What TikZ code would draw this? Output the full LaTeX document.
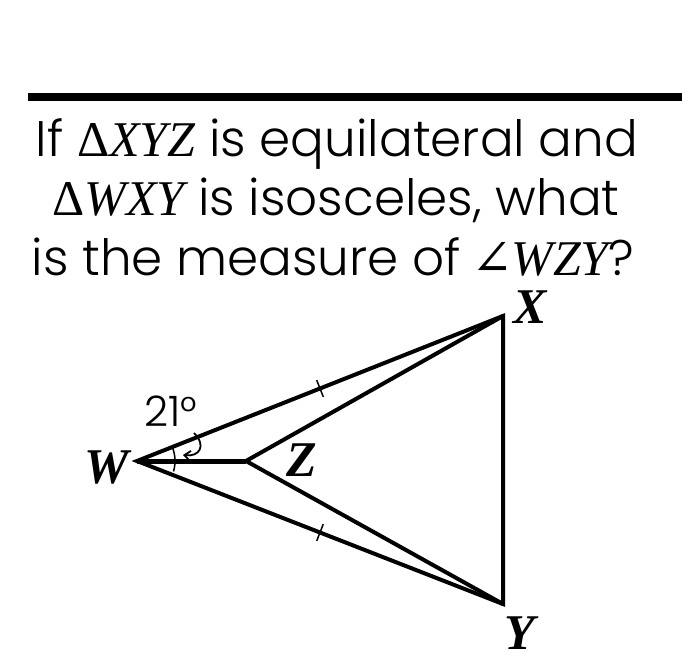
\documentclass[tikz,border=0pt]{standalone}
\usepackage{fontspec}
\setmainfont{Poppins}[UprightFont=* Light]
\newfontfamily\tms{Liberation Serif}
\newfontfamily\djv{DejaVu Serif}
\usetikzlibrary{arrows.meta,calc}
\begin{document}
\begin{tikzpicture}[x=1pt,y=-1pt,
  qtext/.style={anchor=base,inner sep=0pt,font=\fontsize{50}{50}\selectfont},
  vlabel/.style={inner sep=0pt,font=\tms\bfseries\itshape\fontsize{50}{50}\selectfont},
  side/.style={line width=4pt,line join=miter},
  tick/.style={line width=1.5pt}]
\useasboundingbox (0,0) rectangle (682,660);
\fill[black] (28,93) rectangle (682,101);
\node[qtext] (l1) at (337,157) {If {\tms Δ\itshape XYZ} is equilateral and};
\node[qtext] (l2) at (336,216) {{\tms Δ\itshape WXY} is isosceles, what};
\node[qtext] (l3) at (333,275) {is the measure of\kern-3pt\ {\djv ∠\kern-2pt}{\tms\itshape WZY}?};
\coordinate (W) at (137,461);
\coordinate (Z) at (246,461);
\coordinate (X) at (503,316);
\coordinate (Y) at (503,604);
\draw[side] (W) -- (X) -- (Y) -- cycle;
\draw[side] (X) -- (Z) -- (Y);
\draw[side,line width=5pt] (W) -- (Z);
\coordinate (m1) at ($(W)!0.5!(X)$);
\coordinate (m2) at ($(W)!0.5!(Y)$);
\draw[tick] ($(m1)!9pt!90:(X)$) -- ($(m1)!9pt!-90:(X)$);
\draw[tick] ($(m2)!9pt!90:(Y)$) -- ($(m2)!9pt!-90:(Y)$);
\draw[line width=1.5pt] ($(W)+(20:38pt)$) arc[start angle=20,end angle=-16,radius=38pt];
\coordinate (a1) at (194,433);
\coordinate (a2) at (183,455);
\draw[line width=1.8pt,-{Straight Barb[length=6pt,width=10pt]}] (a1) .. controls (207,446) and (199,457) .. (a2);
\node[inner sep=0pt,font=\fontsize{42}{42}\selectfont] (ang) at (171,411) {21°};
\node[vlabel] (lX) at (530,307) {X};
\node[vlabel] (lY) at (520,633) {Y};
\node[vlabel] (lW) at (107,468) {W};
\node[vlabel] (lZ) at (302,460) {Z};
\end{tikzpicture}
\end{document}
